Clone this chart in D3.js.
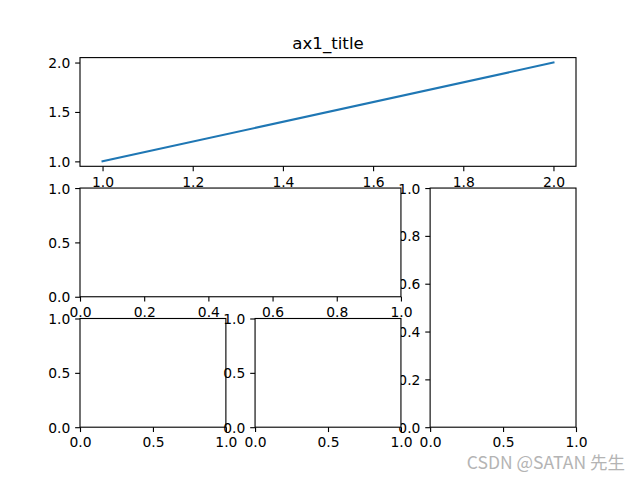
<!DOCTYPE html>
<html>
<head>
<meta charset="utf-8">
<script src="https://cdn.jsdelivr.net/npm/d3@7"></script>
<style>
  body { margin: 0; background: #fff; }
  text { font-family: "DejaVu Sans", sans-serif; }
</style>
</head>
<body>
<script>
// figure size and gridspec layout (matplotlib defaults)
const w = 640;
const h = 480;
const gLeft = 0.125, gRight = 0.9, gBottom = 0.11, gTop = 0.88, gSpace = 0.2;
const nRows = 3, nCols = 3;

// line data on ax1
const lineX = [1, 2];
const lineY = [1, 2];

// ax1 ticks
const ax1XTicks = [1.0, 1.2, 1.4, 1.6, 1.8, 2.0];
const ax1YTicks = [1.0, 1.5, 2.0];
const ax1Title = "ax1_title";

// empty axes ticks
const ticks5 = [0.0, 0.2, 0.4, 0.6, 0.8, 1.0];
const ticks3 = [0.0, 0.5, 1.0];

// axes: grid spans [row0, row1, col0, col1] (end exclusive), drawn in this order
const axesList = [
  {name: "ax1", span: [0, 1, 0, 3], xDom: [0.95, 2.05], yDom: [0.95, 2.05], xt: ax1XTicks, yt: ax1YTicks, title: ax1Title, line: true},
  {name: "ax3", span: [1, 3, 2, 3], xDom: [0, 1], yDom: [0, 1], xt: ticks3, yt: ticks5},
  {name: "ax2", span: [1, 2, 0, 2], xDom: [0, 1], yDom: [0, 1], xt: ticks5, yt: ticks3},
  {name: "ax4", span: [2, 3, 0, 1], xDom: [0, 1], yDom: [0, 1], xt: ticks3, yt: ticks3},
  {name: "ax5", span: [2, 3, 1, 2], xDom: [0, 1], yDom: [0, 1], xt: ticks3, yt: ticks3}
];

// cell sizes
const totW = (gRight - gLeft) * w;
const totH = (gTop - gBottom) * h;
const cellW = totW / (nCols + gSpace * (nCols - 1));
const cellH = totH / (nRows + gSpace * (nRows - 1));
const colX = c => gLeft * w + c * cellW * (1 + gSpace);
const rowY = r => (1 - gTop) * h + r * cellH * (1 + gSpace);

const fontPx = 10 * 100 / 72;
const tickLen = 3.5 * 100 / 72;
const tickPad = 3.5 * 100 / 72;
const spineW = 0.8 * 100 / 72;

const svg = d3.select("body").append("svg")
    .attr("width", w)
    .attr("height", h);

svg.append("rect").attr("width", w).attr("height", h).attr("fill", "#fff");

const fmt = d3.format(".1f");

axesList.forEach(a => {
  const x0 = colX(a.span[2]);
  const x1 = colX(a.span[3] - 1) + cellW;
  const y0 = rowY(a.span[0]);
  const y1 = rowY(a.span[1] - 1) + cellH;
  const aw = x1 - x0, ah = y1 - y0;

  const xScale = d3.scaleLinear().domain(a.xDom).range([0, aw]);
  const yScale = d3.scaleLinear().domain(a.yDom).range([ah, 0]);

  const g = svg.append("g")
      .attr("class", a.name)
      .attr("transform", `translate(${x0},${y0})`);

  g.append("rect")
      .attr("width", aw)
      .attr("height", ah)
      .attr("fill", "#fff");

  if (a.line) {
    const pts = lineX.map((v, i) => [v, lineY[i]]);
    g.append("path")
        .datum(pts)
        .attr("fill", "none")
        .attr("stroke", "#1f77b4")
        .attr("stroke-width", 1.5 * 100 / 72)
        .attr("stroke-linecap", "square")
        .attr("d", d3.line().x(d => xScale(d[0])).y(d => yScale(d[1])));
  }

  // axes
  const xAxis = g.append("g")
      .attr("transform", `translate(0,${ah})`)
      .call(d3.axisBottom(xScale).tickValues(a.xt).tickFormat(fmt)
        .tickSize(tickLen).tickPadding(tickPad).tickSizeOuter(0));
  const yAxis = g.append("g")
      .call(d3.axisLeft(yScale).tickValues(a.yt).tickFormat(fmt)
        .tickSize(tickLen).tickPadding(tickPad).tickSizeOuter(0));

  [xAxis, yAxis].forEach(ax => {
    ax.select(".domain").remove();
    ax.selectAll(".tick line").attr("stroke", "#000").attr("stroke-width", spineW);
    ax.selectAll(".tick text")
        .attr("fill", "#000")
        .style("font-family", "DejaVu Sans")
        .style("font-size", fontPx + "px");
  });
  xAxis.selectAll(".tick text").attr("dy", "0.76em");
  yAxis.selectAll(".tick text").attr("dy", "0.36em");

  // spines
  g.append("rect")
      .attr("width", aw)
      .attr("height", ah)
      .attr("fill", "none")
      .attr("stroke", "#000")
      .attr("stroke-width", spineW);

  if (a.title) {
    g.append("text")
        .attr("x", aw / 2)
        .attr("y", -6 * 100 / 72)
        .attr("text-anchor", "middle")
        .style("font-size", (12 * 100 / 72) + "px")
        .attr("fill", "#000")
        .text(a.title);
  }
});

// watermark
svg.append("text")
    .attr("x", 625)
    .attr("y", 469)
    .attr("text-anchor", "end")
    .style("font-family", "'Noto Sans CJK SC', 'Noto Sans', sans-serif")
    .style("font-size", "17.5px")
    .attr("fill", "#b4b4b4")
    .text("CSDN @SATAN 先生");
</script>
</body>
</html>
